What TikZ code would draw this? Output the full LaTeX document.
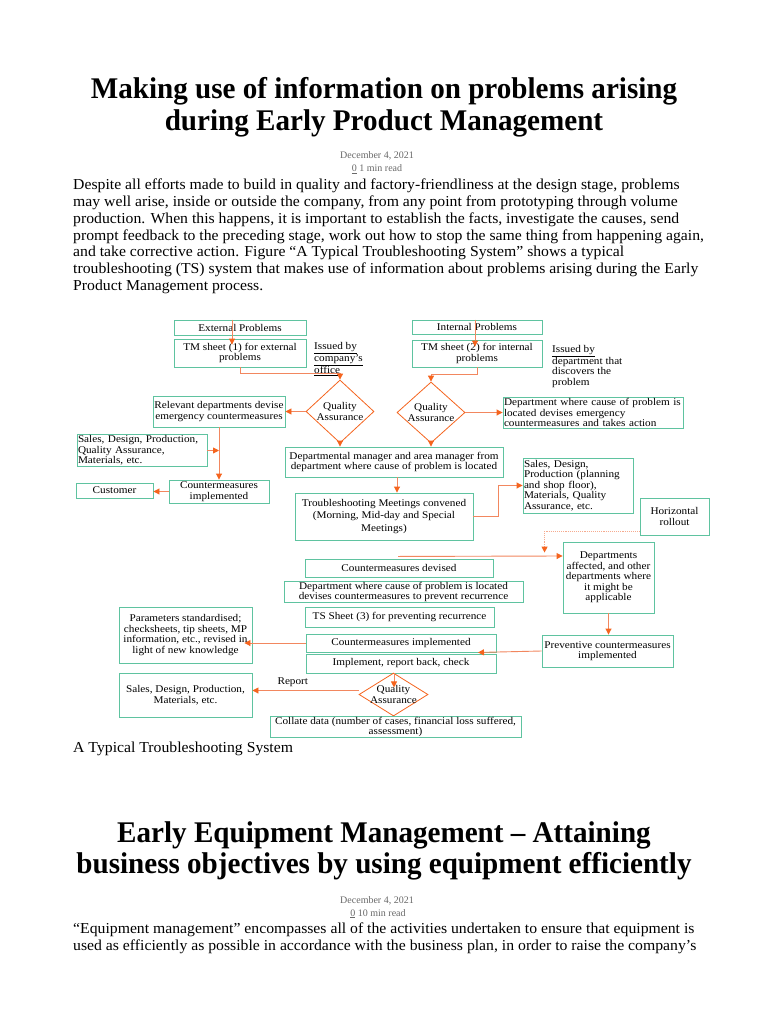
\documentclass[tikz,border=0pt]{standalone}
\usepackage{fontspec}
\setmainfont{Liberation Serif}
\newfontfamily\titlefont[FakeStretch=0.97]{Liberation Serif}
\newfontfamily\parafont[FakeStretch=1.035]{Liberation Serif}
\newfontfamily\chartfont[FakeStretch=1.09]{Liberation Serif}
\usetikzlibrary{shapes.geometric,arrows.meta,backgrounds}

\definecolor{boxgreen}{RGB}{95,195,160}
\definecolor{tiporange}{RGB}{245,100,30}
\definecolor{lineorange}{RGB}{242,135,95}
\definecolor{dategray}{RGB}{105,105,105}

\tikzset{
  box/.style={draw=boxgreen, line width=0.9pt, fill=white, inner sep=1pt,
    align=center, font=\chartfont\fontsize{10.3}{10.6}\selectfont},
  leftbox/.style={box, align=left},
  qa/.style={diamond, draw=tiporange, line width=0.8pt, inner sep=0pt,
    label={[align=center, font=\chartfont\fontsize{10.3}{11.5}\selectfont]center:Quality\\Assurance}},
  arr/.style={draw=lineorange, line width=0.9pt,
    -{Triangle[length=6pt,width=6pt,color=tiporange]}},
  rollout/.style={arr, draw=lineorange!70, densely dotted},
  spine/.style={draw=lineorange, line width=0.9pt},
  title/.style={anchor=base, font=\titlefont\fontsize{30}{32}\selectfont\bfseries},
  para/.style={anchor=base west, inner sep=0pt, font=\parafont\fontsize{15.2}{16.7}\selectfont},
  date/.style={anchor=base, inner sep=0pt, text=dategray, font=\fontsize{10}{11}\selectfont},
  note/.style={anchor=north west, inner sep=0pt, align=left, font=\chartfont\fontsize{10.3}{10.2}\selectfont}
}

\begin{document}
\begin{tikzpicture}[x=1pt,y=-1pt]
  \useasboundingbox[fill=white] (0,0) rectangle (768,1024);

  %Premier article
  \node[title] (T1a) at (384,99) {Making use of information on problems arising};
  \node[title] (T1b) at (384,131) {during Early Product Management};
  \node[date] (D1a) at (377,159) {December 4, 2021};
  \node[date] (D1b) at (377,172) {\underline{0} 1 min read};
  \node[para] (L1) at (73,190) {Despite all efforts made to build in quality and factory-friendliness at the design stage, problems};
  \node[para] (L2) at (73,206.7) {may well arise, inside or outside the company, from any point from prototyping through volume};
  \node[para] (L3) at (73,223.4) {production. When this happens, it is important to establish the facts, investigate the causes, send};
  \node[para] (L4) at (73,240.1) {prompt feedback to the preceding stage, work out how to stop the same thing from happening again,};
  \node[para] (L5) at (73,256.8) {and take corrective action. Figure “A Typical Troubleshooting System” shows a typical};
  \node[para] (L6) at (73,273.5) {troubleshooting (TS) system that makes use of information about problems arising during the Early};
  \node[para] (L7) at (73,290.2) {Product Management process.};

  %Noeuds du diagramme
  \node[box, minimum width=132pt, minimum height=15pt] (ext) at (240,327.5) {External Problems};
  \node[box, minimum width=132pt, minimum height=28pt] (tm1) at (240,353) {TM sheet (1) for external\\problems};
  \node[note] (iss1) at (314,342) {\underline{Issued by}\\\underline{company’s}\\\underline{office}};
  \node[qa, minimum width=68pt, minimum height=63pt] (qa1) at (340,411.5) {};
  \node[box, minimum width=132pt, minimum height=31pt] (rel) at (219,411.5) {Relevant departments devise\\emergency countermeasures};
  \node[leftbox, text width=128pt, minimum height=31pt] (sal1) at (142,450.5) {Sales, Design, Production,\\Quality Assurance,\\Materials, etc.};
  \node[box, minimum width=77pt, minimum height=15pt] (cust) at (114.5,490.5) {Customer};
  \node[box, minimum width=100pt, minimum height=23pt] (cim1) at (219,491.5) {Countermeasures\\implemented};

  \node[box, minimum width=130pt, minimum height=14pt] (int) at (477,327) {Internal Problems};
  \node[box, minimum width=130pt, minimum height=27pt] (tm2) at (477,353.5) {TM sheet (2) for internal\\problems};
  \node[note] (iss2) at (552,345) {\underline{Issued by}\\department that\\discovers the\\problem};
  \node[qa, minimum width=68pt, minimum height=61pt] (qa2) at (431,412.5) {};
  \node[leftbox, text width=178pt, minimum height=31pt] (dem) at (593,412.5) {Department where cause of problem is\\located devises emergency\\countermeasures and takes action};

  \node[box, minimum width=218pt, minimum height=30pt] (mgr) at (394,462) {Departmental manager and area manager from\\department where cause of problem is located};
  \node[box, minimum width=178pt, minimum height=47pt, font=\chartfont\fontsize{10.3}{12.5}\selectfont] (tsm) at (384,516.5) {Troubleshooting Meetings convened\\(Morning, Mid-day and Special\\Meetings)};
  \node[leftbox, text width=108pt, minimum height=55pt] (sal2) at (578,485.5) {Sales, Design,\\Production (planning\\and shop floor),\\Materials, Quality\\Assurance, etc.};
  \node[box, minimum width=69pt, minimum height=37pt] (hor) at (674.5,516.5) {Horizontal\\rollout};
  \node[box, minimum width=91pt, minimum height=71pt] (aff) at (608.5,577.5) {Departments\\affected, and other\\departments where\\it might be\\applicable};
  \node[box, minimum width=131pt, minimum height=32pt] (prev) at (607.5,651) {Preventive countermeasures\\implemented};

  \node[box, minimum width=188pt, minimum height=18pt] (cmd) at (399,568) {Countermeasures devised};
  \node[box, minimum width=239pt, minimum height=20pt, font=\chartfont\fontsize{10.3}{9.5}\selectfont] (drec) at (403.5,592) {Department where cause of problem is located\\devises countermeasures to prevent recurrence};
  \node[box, minimum width=189pt, minimum height=20pt] (ts3) at (399.5,617) {TS Sheet (3) for preventing recurrence};
  \node[box, minimum width=190pt, minimum height=18pt] (cim2) at (401,643) {Countermeasures implemented};
  \node[box, minimum width=190pt, minimum height=19pt] (impl) at (401,663.5) {Implement, report back, check};
  \node[qa, minimum width=69pt, minimum height=43pt] (qa3) at (393.5,694.5) {};
  \node[box, minimum width=251pt, minimum height=20pt, font=\chartfont\fontsize{10.3}{9.5}\selectfont] (col) at (395.5,727) {Collate data (number of cases, financial loss suffered,\\assessment)};
  \node[box, minimum width=133pt, minimum height=56pt] (par) at (185.5,635) {Parameters standardised;\\checksheets, tip sheets, MP\\information, etc., revised in\\light of new knowledge};
  \node[box, minimum width=133pt, minimum height=44pt] (sal3) at (185.5,695) {Sales, Design, Production,\\Materials, etc.};
  \coordinate (rep) at ([yshift=4pt]qa3.west);

  %Fleches
  \begin{pgfonlayer}{background}
    \draw[spine] ([xshift=10pt]tsm.south) -- ([xshift=-7pt]impl.south);
  \end{pgfonlayer}
  \draw[arr] ([xshift=-8pt]ext.north) -- ([xshift=-8pt,yshift=-6pt]tm1.north);
  \draw[arr] (tm1.south) -- ++(0,6) -| (qa1.north);
  \draw[arr] (qa1.west) -- (rel.east);
  \draw[arr] (rel.south) -- (cim1.north);
  \draw[arr] (sal1.east) -- (sal1.east -| rel.south);
  \draw[arr] (cim1.west) -- (cust.east |- cim1.west);
  \draw[arr] (qa1.south) -- (qa1.south |- mgr.north);
  \draw[arr] ([xshift=-2pt]int.north) -- ([xshift=-2pt,yshift=-7pt]tm2.north);
  \draw[arr] (tm2.south) -- ++(0,7) -| (qa2.north);
  \draw[arr] (qa2.east) -- (qa2.east -| dem.west);
  \draw[arr] (qa2.south) -- (qa2.south |- mgr.north);
  \draw[arr] ([xshift=3pt]mgr.south) -- ([xshift=3pt]mgr.south |- tsm.north);
  \draw[arr] (tsm.east) -- ++(25,0) |- (sal2.west);
  \draw[rollout] ([yshift=-14.5pt]hor.west) -| ([xshift=-18pt,yshift=-11pt]aff.north west);
  \draw[arr] ([xshift=14pt,yshift=-16pt]tsm.south) -- ([yshift=21.5pt]aff.west);
  \draw[arr] (aff.south) -- (aff.south |- prev.north);
  \draw[arr] (prev.west) -- ([xshift=77pt]cim2.south);
  \draw[arr] (cim2.west) -- ([xshift=-8pt]par.east |- cim2.west);
  \draw[arr] ([xshift=-7pt]impl.south) -- ([xshift=-7pt,yshift=-14pt]impl.south);
  \draw[arr] (rep) -- (rep -| sal3.east) node[pos=0.62, above, font=\chartfont\fontsize{10.3}{11}\selectfont] {Report};

  \node[para] (cap) at (73,752) {A Typical Troubleshooting System};

  %Second article
  \node[title] (T2a) at (384,842) {Early Equipment Management – Attaining};
  \node[title] (T2b) at (384,873) {business objectives by using equipment efficiently};
  \node[date] (D2a) at (377,903) {December 4, 2021};
  \node[date] (D2b) at (378,916) {\underline{0} 10 min read};
  \node[para] (M1) at (73,933) {“Equipment management” encompasses all of the activities undertaken to ensure that equipment is};
  \node[para] (M2) at (73,950) {used as efficiently as possible in accordance with the business plan, in order to raise the company’s};
\end{tikzpicture}
\end{document}
